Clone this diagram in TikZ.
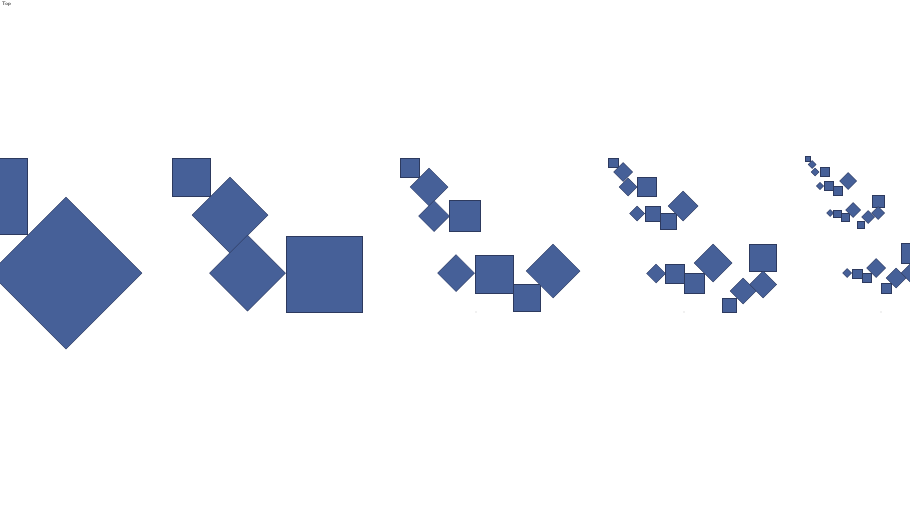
\documentclass[tikz,border=0pt]{standalone}
\usepackage{tikz}
\usetikzlibrary{calc}
\definecolor{tilecol}{RGB}{70,96,152}
\definecolor{edgecol}{RGB}{45,58,95}
\tikzset{blk/.style = {rectangle,draw=edgecol,fill=tilecol,line width=0.35pt,inner sep=0pt}}
\tikzset{sq/.style = {blk,minimum size=#1}}
\tikzset{dia/.style = {blk,rotate=45,minimum size={1.4142*#1}}}

\begin{document}
\begin{tikzpicture}[x=1pt,y=-1pt]
                    \fill[white] (0,0) rectangle (910,512);
                    \useasboundingbox (0,0) rectangle (910,512);

                    \node[anchor=north west,inner sep=0pt,font=\sffamily\fontsize{5}{6}\selectfont] (view) at (2,2) {Top};

                    \node[sq=76] (a1) at (-11,196) {};
                    \node[dia=76] (a2) at (66,273) {};

                    \node[sq=38] (b1) at (191.5,177) {};
                    \node[dia=38] (b2) at (230,215) {};
                    \node[dia=38] (b3) at (247.5,273) {};
                    \node[sq=76] (b4) at (324,274) {};

                    \node[sq=19] (c1) at (409.5,167.5) {};
                    \node[dia=19] (c2) at (429,187) {};
                    \node[dia=15.5] (c3) at (434,216) {};
                    \node[sq=31] (c4) at (464.5,215.5) {};
                    \node[dia=18.5] (c5) at (456,273) {};
                    \node[sq=38] (c6) at (494.5,274) {};
                    \node[sq=27] (c7) at (526.5,298) {};
                    \node[dia=27] (c8) at (553,271) {};

                    \node[sq=9.5] (d1) at (613,162.5) {};
                    \node[dia=9.5] (d2) at (623,172) {};
                    \node[dia=9] (d3) at (628,187) {};
                    \node[sq=19] (d4) at (646.5,186.5) {};
                    \node[dia=7.5] (d5) at (637,213.5) {};
                    \node[sq=15] (d6) at (652.5,213.5) {};
                    \node[sq=16] (d7) at (668,221) {};
                    \node[dia=15] (d8) at (683,206) {};
                    \node[dia=9.5] (d9) at (656,273.5) {};
                    \node[sq=19] (d10) at (674.5,273.5) {};
                    \node[sq=20] (d11) at (694,283) {};
                    \node[dia=19] (d12) at (713,263) {};
                    \node[sq=27] (d13) at (762.5,257.5) {};
                    \node[dia=13.5] (d14) at (763,284.5) {};
                    \node[dia=13] (d15) at (743,291) {};
                    \node[sq=14] (d16) at (729,305) {};

                    \node[sq=5] (e1) at (808,159) {};
                    \node[dia=4] (e2) at (812,164.5) {};
                    \node[dia=4] (e3) at (815,172) {};
                    \node[sq=9] (e4) at (824.5,172) {};
                    \node[dia=3.7] (e5) at (820,186) {};
                    \node[sq=8.5] (e6) at (828.5,185.5) {};
                    \node[sq=9] (e7) at (837.5,190.5) {};
                    \node[dia=8.5] (e8) at (848,181) {};
                    \node[dia=3.5] (e9) at (830,213) {};
                    \node[sq=7.5] (e10) at (837,213.5) {};
                    \node[sq=8] (e11) at (845,217) {};
                    \node[dia=7.5] (e12) at (853,210) {};
                    \node[sq=12] (e13) at (878,201) {};
                    \node[dia=6.5] (e14) at (878,213) {};
                    \node[dia=6.5] (e15) at (868,217) {};
                    \node[sq=7] (e16) at (860.5,224.5) {};
                    \node[dia=4.5] (e17) at (847,273) {};
                    \node[sq=9.5] (e18) at (857,273.5) {};
                    \node[sq=9.5] (e19) at (866.5,277.5) {};
                    \node[dia=9.5] (e20) at (876,268) {};
                    \node[sq=20] (e21) at (911,253) {};
                    \node[dia=10] (e22) at (911,273) {};
                    \node[dia=10] (e23) at (896,278) {};
                    \node[sq=10] (e24) at (886,288) {};

                    \fill[gray!45] (476,312) circle (0.6);
                    \fill[gray!45] (684,312) circle (0.6);
                    \fill[gray!45] (881,312) circle (0.6);
                \end{tikzpicture}
\end{document}
